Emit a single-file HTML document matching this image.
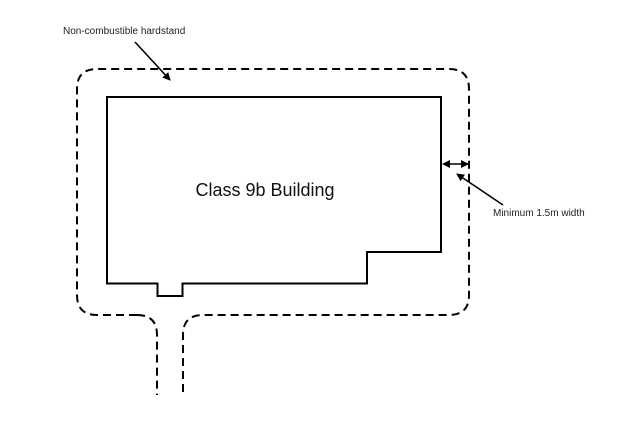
<!DOCTYPE html>
<html><head><style>
html,body{margin:0;padding:0;background:#fff;}
svg{display:block;}
</style></head><body>
<svg width="627" height="444" viewBox="0 0 627 444" xmlns="http://www.w3.org/2000/svg">
<defs>
<marker id="ah" markerWidth="8" markerHeight="8" refX="7" refY="4" orient="auto" markerUnits="userSpaceOnUse">
<path d="M0,0 L8,4 L0,8 z" fill="#000"/>
</marker>
</defs>
<path d="M107,97 H441 V252 H367 V283.5 H182.5 V296 H157.5 V283.5 H107 Z" fill="none" stroke="#000" stroke-width="2"/>
<g fill="none" stroke="#000" stroke-width="2" stroke-dasharray="8,5">
<path d="M137,315 H97 Q77,315 77,295 V89 Q77,69 97,69 H449 Q469,69 469,89 V295 Q469,315 449,315 H203 Q183,315 183,335 V395"/>
<path d="M137,315 Q157,315 157,335 V395"/>
</g>
<line x1="135" y1="42" x2="170" y2="80" stroke="#000" stroke-width="1.6" marker-end="url(#ah)"/>
<line x1="448" y1="164" x2="468" y2="164" stroke="#000" stroke-width="1.6" marker-end="url(#ah)"/>
<path d="M442,164 L450,160 L450,168 z" fill="#000"/>
<line x1="503" y1="205" x2="457" y2="174" stroke="#000" stroke-width="1.6" marker-end="url(#ah)"/>
<text x="63" y="34" font-family="Liberation Sans, sans-serif" font-size="10" fill="#222">Non-combustible hardstand</text>
<text x="493" y="216" font-family="Liberation Sans, sans-serif" font-size="10" fill="#222">Minimum 1.5m width</text>
<text x="265" y="196" text-anchor="middle" font-family="Liberation Sans, sans-serif" font-size="18" fill="#111">Class 9b Building</text>
</svg>
</body></html>
